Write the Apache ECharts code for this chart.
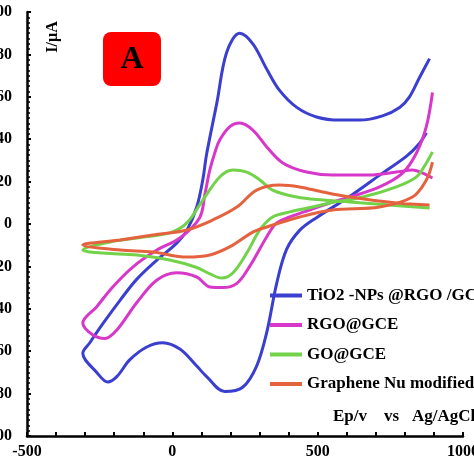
<!DOCTYPE html>
<html>
<head>
<meta charset="utf-8">
<script src="https://cdn.jsdelivr.net/npm/echarts@6/dist/echarts.min.js"></script>
<style>
  html, body { margin: 0; padding: 0; background: #ffffff; }
  #myChart { width: 474px; height: 474px; }
</style>
</head>
<body>
<div id="myChart"></div>
<script>
// legend names
const names = ["TiO2 -NPs @RGO /GCE", "RGO@GCE", "GO@GCE", "Graphene Nu modified GCE"];
const colors = ["#3b3fcf", "#d838c9", "#72d24a", "#e5623e"];

// each curve: start at right end of the lower (cathodic) branch, go to left vertex, then back along upper branch
const tio2 = [
  [874, 43], [850, 38], [806, 32], [723, 24], [610, 13], [496, 3], [438, -3], [393, -12],
  [359, -28], [325, -51], [290, -67], [242, -77], [180, -79], [118, -72], [84, -67],
  [26, -59], [-33, -56], [-88, -58], [-146, -64], [-191, -72], [-222, -74.5], [-260, -70],
  [-308, -61],
  [-284, -56], [-239, -47], [-180, -36], [-122, -26], [-53, -17], [15, -9], [50, -3],
  [84, 8], [105, 21], [118, 33], [153, 57], [187, 81], [232, 90], [277, 85], [325, 73],
  [369, 63], [428, 55], [496, 50.5], [575, 49], [644, 49], [723, 51], [782, 55],
  [816, 60], [850, 69], [885, 78]
];
const rgo = [
  [895, 62], [874, 46], [840, 33.5], [792, 24], [713, 17.5], [610, 12.7], [541, 9.9],
  [472, 6.6], [404, 3.3], [359, 0.5], [325, -6], [266, -20], [222, -28], [173, -30],
  [129, -29.7], [84, -25], [15, -23], [-53, -26.4], [-122, -37], [-191, -50], [-232, -54],
  [-273, -52.4], [-308, -46.7],
  [-260, -39], [-205, -29.7], [-136, -20.3], [-53, -12.3], [26, -6.6], [94, 3],
  [112, 14], [129, 25.5], [147, 34], [163, 39.6], [197, 45.8], [232, 47.6], [277, 44.3], [325, 36.3],
  [380, 28.8], [462, 24.5], [551, 23.1], [679, 23.1], [771, 24.5], [826, 25.5],
  [861, 24], [895, 21.7]
];
const go = [
  [895, 34], [874, 28.8], [840, 22.2], [771, 17.5], [655, 12.7], [541, 9.9], [483, 8],
  [404, 5.7], [345, 3.3], [301, -2.8], [256, -13.7], [208, -23.1], [170, -25.5],
  [129, -23.5], [84, -20.5], [-9, -17], [-122, -14.6], [-239, -13.7], [-308, -12.3],
  [-215, -8.5], [-122, -6.6], [-9, -4.2], [50, 0.5], [105, 11.3], [163, 22.2],
  [208, 25.5], [256, 24.5], [301, 20.8], [345, 16], [428, 12.7], [517, 11.3],
  [610, 10.4], [747, 9], [885, 7.5]
];
const graphene = [
  [895, 29.2], [874, 20.8], [826, 12.7], [713, 8], [551, 6.6], [438, 3.3], [325, -1.4],
  [277, -3.8], [197, -10.8], [129, -14.6], [50, -15.6], [-67, -13.2], [-180, -12.3],
  [-308, -9.9],
  [-180, -7.5], [-67, -5.2], [50, -2.8], [139, 1.9], [222, 8], [290, 16], [369, 18.4],
  [438, 17.5], [517, 15.1], [610, 12.7], [771, 9.9], [885, 9]
];
const curves = [tio2, rgo, go, graphene];

const xLabels = [-500, 0, 500, 1000];

const font = "'Liberation Serif', 'DejaVu Serif', serif";

const myChart = echarts.init(document.getElementById("myChart"));

myChart.setOption({
  backgroundColor: "#ffffff",
  animation: false,
  // labels are allowed to run off the left/right edges like in the original
  grid: { left: 27, right: 11, top: 12, bottom: 38, outerBoundsMode: "none", containLabel: false },
  legend: {
    orient: "vertical",
    left: 265,
    top: 282,
    itemGap: 12.5,
    itemWidth: 32,
    itemHeight: 4,
    icon: "rect",
    data: names,
    textStyle: { fontFamily: font, fontWeight: "bold", fontSize: 17, color: "#000" },
  },
  xAxis: {
    type: "value",
    min: -500,
    max: 1000,
    interval: 100,
    splitLine: { show: false },
    axisLine: { onZero: false, lineStyle: { color: "#000", width: 2.5 } },
    axisTick: { inside: true, length: 4, lineStyle: { color: "#000", width: 2 } },
    axisLabel: {
      margin: 8,
      fontFamily: font,
      fontWeight: "bold",
      fontSize: 16,
      color: "#000",
      formatter: (v) => (xLabels.indexOf(v) >= 0 ? String(v) : ""),
    },
  },
  yAxis: {
    type: "value",
    min: -100,
    max: 100,
    interval: 20,
    splitLine: { show: false },
    axisLine: { onZero: false, lineStyle: { color: "#000", width: 2.5 } },
    axisTick: { inside: true, length: 4, lineStyle: { color: "#000", width: 2 } },
    minorTick: { show: true, splitNumber: 8, length: 3, lineStyle: { color: "#000", width: 1.5 } },
    axisLabel: {
      margin: 15,
      fontFamily: font,
      fontWeight: "bold",
      fontSize: 16,
      color: "#000",
    },
  },
  series: curves.map((d, i) => ({
    name: names[i],
    type: "line",
    data: d,
    smooth: 0.35,
    showSymbol: false,
    lineStyle: { color: colors[i], width: 3 },
    itemStyle: { color: colors[i] },
  })),
  graphic: [
    {
      // I/µA axis title
      type: "text",
      x: 53,
      y: 37,
      rotation: Math.PI / 2,
      style: {
        text: "I/µA",
        font: "bold 16px " + font,
        fill: "#000",
        align: "center",
        verticalAlign: "middle",
      },
    },
    {
      // panel letter box
      type: "rect",
      shape: { x: 103, y: 32, width: 58, height: 54, r: 8 },
      style: { fill: "#ff0000" },
    },
    {
      type: "text",
      x: 132,
      y: 60,
      style: {
        text: "A",
        font: "bold 32px " + font,
        fill: "#000",
        align: "center",
        verticalAlign: "middle",
      },
    },
    {
      type: "text",
      x: 333,
      y: 417,
      style: {
        text: "Ep/v    vs   Ag/AgCl",
        font: "bold 17px " + font,
        fill: "#000",
        align: "left",
        verticalAlign: "middle",
      },
    },
  ],
});
</script>
</body>
</html>
